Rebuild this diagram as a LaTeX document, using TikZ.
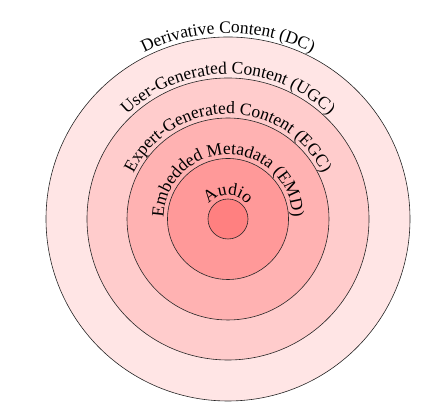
\documentclass[tikz,border=0pt]{standalone}
\usepackage{fontspec}
\setmainfont{Liberation Serif}
\usetikzlibrary{decorations.text,calc}
\newcommand\ringfont{\fontsize{17.5}{20}\selectfont}
\begin{document}
\begin{tikzpicture}[x=1pt,y=1pt,
  ring/.style={draw=black!85, line width=0.6pt},
  arclabel/.style={decorate, decoration={text along path, text align=center, raise=0pt, text={|\ringfont|#1}}}]
\useasboundingbox (0,0) rectangle (440,417);
\coordinate (c) at (228,198);
\filldraw[ring, fill=red!10] (c) circle (182);
\filldraw[ring, fill=red!20] (c) circle (141);
\filldraw[ring, fill=red!30] (c) circle (101);
\filldraw[ring, fill=red!40] (c) circle (60.5);
\filldraw[ring, fill=red!50] (c) circle (20);
\path[arclabel={Derivative Content (DC)}] ($(c)+(-186,0)$) arc (180:0:186);
\path[arclabel={User-Generated Content (UGC)}] ($(c)+(-145,0)$) arc (180:0:145);
\path[arclabel={Expert-Generated Content (EGC)}] ($(c)+(-105,0)$) arc (180:0:105);
\path[arclabel={Embedded Metadata (EMD)}] ($(c)+(-64.5,0)$) arc (180:0:64.5);
\path[arclabel={Audio}] ($(c)+(-24,0)$) arc (180:0:24);
\end{tikzpicture}
\end{document}
